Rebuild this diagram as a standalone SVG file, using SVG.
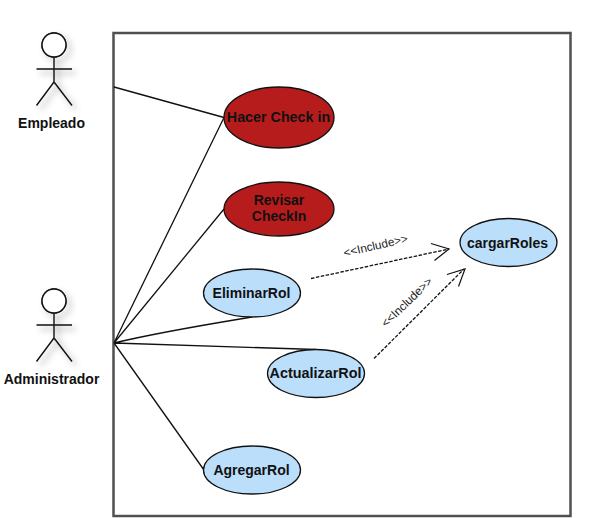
<svg xmlns="http://www.w3.org/2000/svg" width="591" height="518" viewBox="0 0 591 518">
<defs>
<style>
text{font-family:"Liberation Sans",Arial,sans-serif;font-weight:bold;font-size:14px;fill:#111;text-anchor:middle}
.e{stroke:#111;stroke-width:1.3}
.red{fill:#b71c1c}
.blue{fill:#bbdefb}
.c{fill:none;stroke:#111;stroke-width:1.3}
.d{fill:none;stroke:#111;stroke-width:1.3;stroke-dasharray:3.5 1.5}
.a{fill:none;stroke:#111;stroke-width:1.2}
.l{font-weight:normal;font-size:11.8px;fill:#222}
</style>
<filter id="sh" x="-50%" y="-50%" width="200%" height="200%"><feGaussianBlur stdDeviation="3"/></filter>
<g id="stick"><circle cx="54" cy="0" r="12"/><path d="M54 12V37M36.500 24H72M54 37L36.500 60.500M54 37L72 60.500"/></g>
</defs>
<rect width="591" height="518" fill="#fff"/>
<g id="boundary"><rect x="113.500" y="33" width="457" height="483" fill="none" stroke="#505050" stroke-width="2.500"/></g>
<g id="connectors">
<path class="c" d="M114 87L224 117.500M114 343L224 117.500M114 343L224 209M114 343C160 332 210 324 252 317M114 343L316 349.500M114 343L204 470"/>
<path class="d" d="M311 278.500L449 249"/>
<path class="a" d="M431 243.500L449 249L434.500 260.500"/>
<path class="d" d="M374 358.500L464 269"/>
<path class="a" d="M447 274.500L465 269L458.500 286.500"/>
<text class="l" transform="translate(376.500 249.500) rotate(-13)">&lt;&lt;Include&gt;&gt;</text>
<text class="l" transform="translate(409.500 305) rotate(-44)">&lt;&lt;Include&gt;&gt;</text>
</g>
<g id="empleado">
<use href="#stick" y="45" transform="translate(4 4)" fill="none" stroke="#888" stroke-width="2" filter="url(#sh)" opacity=".7"/>
<use href="#stick" y="45" fill="none" stroke="#111" stroke-width="1.400"/>
<circle cx="54" cy="45" r="12" fill="#fff" stroke="#111" stroke-width="1.400"/>
<text x="51.500" y="127.500">Empleado</text>
</g>
<g id="administrador">
<use href="#stick" y="301" transform="translate(4 4)" fill="none" stroke="#888" stroke-width="2" filter="url(#sh)" opacity=".7"/>
<use href="#stick" y="301" fill="none" stroke="#111" stroke-width="1.400"/>
<circle cx="54" cy="301" r="12" fill="#fff" stroke="#111" stroke-width="1.400"/>
<text x="51.500" y="383.500">Administrador</text>
</g>
<g id="hacer-check-in"><ellipse class="e red" cx="279" cy="117.500" rx="55" ry="30.500"/><text x="278.500" y="122" style="font-size:14.3px">Hacer Check in</text></g>
<g id="revisar-checkin"><ellipse class="e red" cx="279" cy="209" rx="55" ry="27"/><text x="279" y="205"><tspan x="279">Revisar</tspan></text><text x="279" y="221.200">CheckIn</text></g>
<g id="eliminar-rol"><ellipse class="e blue" cx="252" cy="293" rx="48.500" ry="24"/><text x="251.500" y="298">EliminarRol</text></g>
<g id="actualizar-rol"><ellipse class="e blue" cx="316" cy="373.500" rx="48.500" ry="24"/><text x="315.500" y="378" style="font-size:14.4px">ActualizarRol</text></g>
<g id="agregar-rol"><ellipse class="e blue" cx="252" cy="470" rx="48.500" ry="24"/><text x="251.500" y="475">AgregarRol</text></g>
<g id="cargar-roles"><ellipse class="e blue" cx="508.500" cy="242.500" rx="48.500" ry="24"/><text x="507.500" y="247.500">cargarRoles</text></g>
</svg>
